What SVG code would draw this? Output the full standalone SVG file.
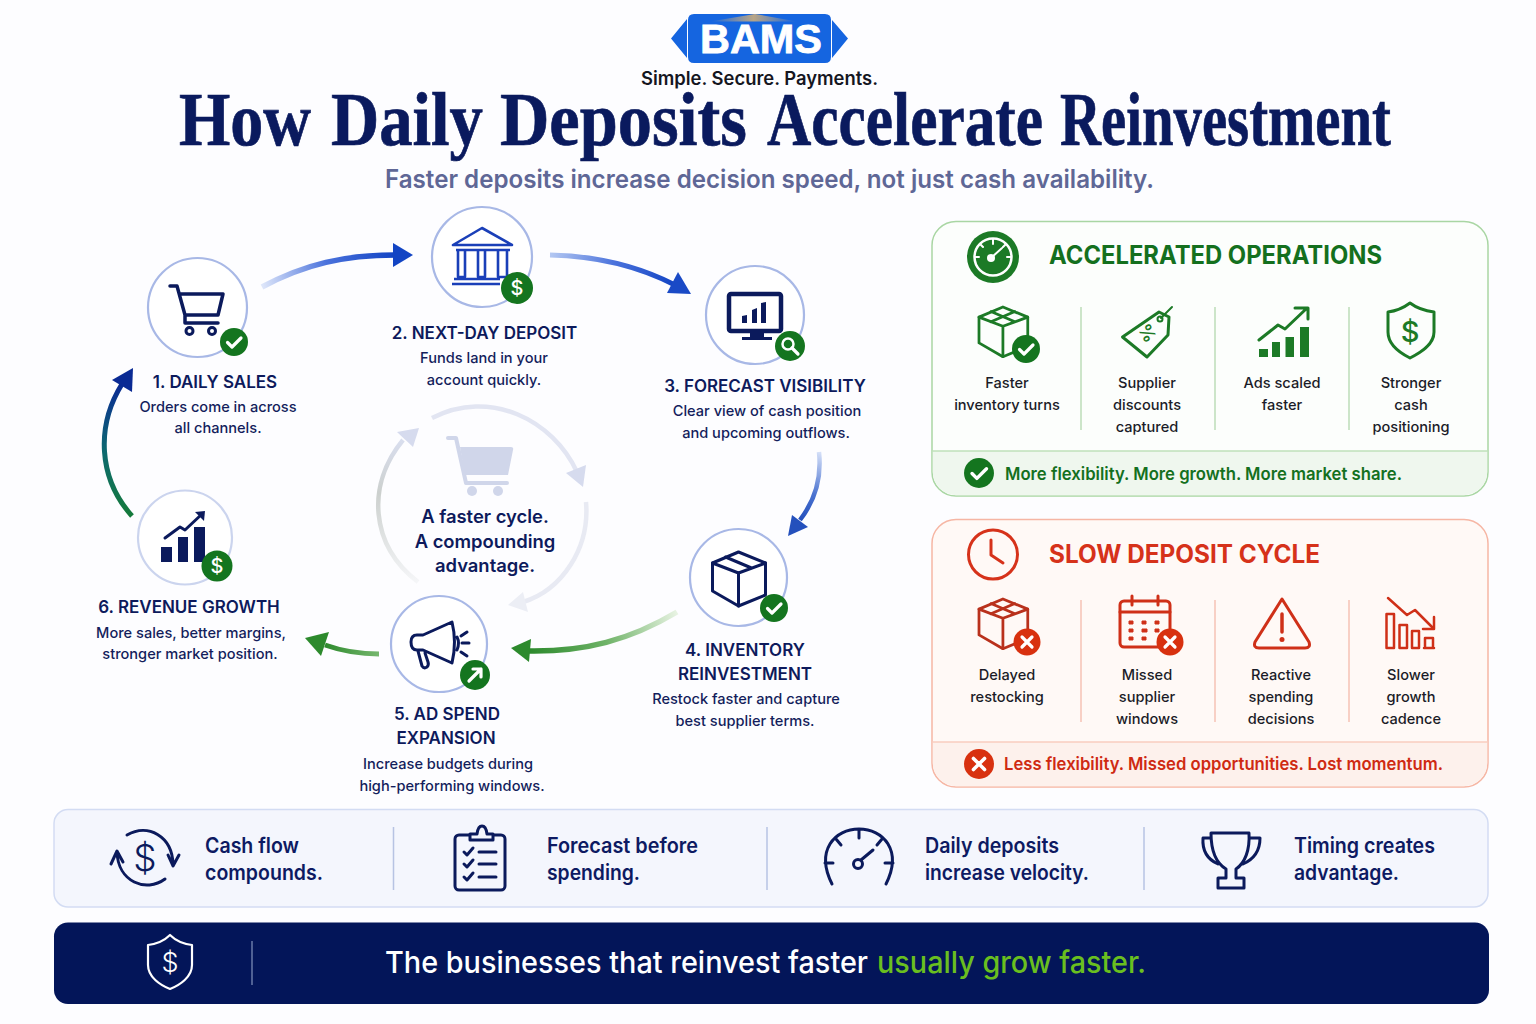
<svg xmlns="http://www.w3.org/2000/svg" width="1536" height="1024" viewBox="0 0 1536 1024">
<style>
text{font-family:Inter,"Noto Sans","Liberation Sans",sans-serif}
.ttl{font-size:17px;font-weight:600;fill:#0d1a5c;text-anchor:middle}
.dsc{font-size:14.600px;font-weight:500;fill:#141e5c;text-anchor:middle}
.ctr{font-size:18.400px;font-weight:600;fill:#0d1a5c;text-anchor:middle}
.lbl{font-size:14.600px;font-weight:500;fill:#1b1c28;text-anchor:middle}
.str{font-size:21px;font-weight:600;fill:#0d1a62}
.ring{fill:#fff;stroke:#a8b8e6;stroke-width:2.2}
.ic{fill:none;stroke:#0b1a5c;stroke-width:3.5;stroke-linecap:round;stroke-linejoin:round}
.fnav{fill:#0b1a5c}
.gi{fill:none;stroke:#1c7a26;stroke-width:3;stroke-linecap:round;stroke-linejoin:round}
.ri{fill:none;stroke:#cf3018;stroke-width:3;stroke-linecap:round;stroke-linejoin:round}
.gd{stroke:#bcdcb8;stroke-width:1.5}
.rd{stroke:#f6c2b4;stroke-width:1.5}
.sd{stroke:#b7c3e3;stroke-width:1.5}
.bd{fill:#14751f}
.wl{fill:none;stroke:#fff;stroke-width:3.2;stroke-linecap:round;stroke-linejoin:round}
.dol{font-weight:500;text-anchor:middle}
.con{fill:none;stroke-linecap:butt}
</style>
<defs>
<linearGradient id="g1" gradientUnits="userSpaceOnUse" x1="262" y1="287" x2="395" y2="255"><stop offset="0" stop-color="#dfe7fa"/><stop offset=".5" stop-color="#4a72dc"/><stop offset="1" stop-color="#1244c4"/></linearGradient>
<linearGradient id="g2" gradientUnits="userSpaceOnUse" x1="550" y1="255" x2="675" y2="285"><stop offset="0" stop-color="#b4c8f2"/><stop offset=".5" stop-color="#4a72dc"/><stop offset="1" stop-color="#1244c4"/></linearGradient>
<linearGradient id="g3" gradientUnits="userSpaceOnUse" x1="819" y1="452" x2="800" y2="520"><stop offset="0" stop-color="#d5e0f8"/><stop offset=".6" stop-color="#4a72d0"/><stop offset="1" stop-color="#2450bc"/></linearGradient>
<linearGradient id="g4" gradientUnits="userSpaceOnUse" x1="677" y1="612" x2="530" y2="651"><stop offset="0" stop-color="#e8f3e3"/><stop offset=".5" stop-color="#6fb368"/><stop offset="1" stop-color="#2d8a2d"/></linearGradient>
<linearGradient id="g5" gradientUnits="userSpaceOnUse" x1="379" y1="654" x2="325" y2="645"><stop offset="0" stop-color="#76b76e"/><stop offset="1" stop-color="#2d8a2d"/></linearGradient>
<linearGradient id="g6" gradientUnits="userSpaceOnUse" x1="132" y1="516" x2="122" y2="384"><stop offset="0" stop-color="#157a3a"/><stop offset=".5" stop-color="#0d6a70"/><stop offset="1" stop-color="#0a2a94"/></linearGradient>
<linearGradient id="g7" gradientUnits="userSpaceOnUse" x1="418" y1="582" x2="403" y2="440"><stop offset="0" stop-color="#f5f6f8"/><stop offset=".65" stop-color="#ccd0ce"/><stop offset="1" stop-color="#d9deee"/></linearGradient>
<linearGradient id="gold" x1="0" y1="0" x2="1" y2="0"><stop offset="0" stop-color="#1565e0"/><stop offset=".5" stop-color="#b9a586"/><stop offset="1" stop-color="#1565e0"/></linearGradient>
<g id="box" fill="none" stroke="currentColor" stroke-linejoin="round" stroke-linecap="round">
<path d="M26 0L53 11V43L26 54L0 39V11Z"/><path d="M0 11L26 21L53 11M26 21V54M13 5L39 16"/>
</g>
<g id="boxX" fill="none" stroke="currentColor" stroke-linejoin="round" stroke-linecap="round">
<use href="#box"/><path d="M39 5L13 16"/>
</g>
<g id="cOk"><circle r="14" class="bd"/><path d="M-6.500 0.500L-2 5L7-4" class="wl"/></g>
<g id="cX"><circle r="13.500" fill="#d8310f"/><path d="M-5-5L5 5M5-5L-5 5" class="wl"/></g>
</defs>
<rect width="1536" height="1024" fill="#fdfdff"/>

<g id="logo">
<path d="M694 14H825Q831 14 831 20V57Q831 63 825 63H694Q688 63 688 57V20Q688 14 694 14Z" fill="#1565e0"/>
<path d="M687 19V58L671 38.500Z M832 20V58L848 38.500Z" fill="#1565e0"/>
<path d="M710 21.500L755 14L797 21.500Z" fill="url(#gold)"/>
<text x="700" y="53" textLength="122" lengthAdjust="spacingAndGlyphs" style="font-family:'Liberation Sans',sans-serif;font-size:40px;font-weight:700;fill:#fff;stroke:#fff;stroke-width:.8">BAMS</text>
<text x="641" y="85" textLength="237" lengthAdjust="spacingAndGlyphs" style="font-size:18.500px;font-weight:600;fill:#15161f">Simple. Secure. Payments.</text>
</g>
<g id="header">
<text transform="translate(179 145) scale(.85 1)" style="font-family:'Liberation Serif',serif;font-size:76px;font-weight:700;fill:#0a1a5e;stroke:#0a1a5e;stroke-width:.7"><tspan x="0" textLength="155.300" lengthAdjust="spacingAndGlyphs">How</tspan> <tspan x="178.800" textLength="178.800" lengthAdjust="spacingAndGlyphs">Daily</tspan> <tspan x="377.600" textLength="290.600" lengthAdjust="spacingAndGlyphs">Deposits</tspan> <tspan x="691.800" textLength="324.700" lengthAdjust="spacingAndGlyphs">Accelerate</tspan> <tspan x="1036.500" textLength="389.400" lengthAdjust="spacingAndGlyphs">Reinvestment</tspan></text>
<text x="385" y="188" textLength="769" lengthAdjust="spacingAndGlyphs" style="font-size:25px;font-weight:600;fill:#5f6796">Faster deposits increase decision speed, not just cash availability.</text>
</g>

<g id="connectors">
<path class="con" d="M262 287C305 264 345 255 395 255" stroke="url(#g1)" stroke-width="5.500"/>
<polygon points="413,255 393,243 393,267" fill="#1244c4"/>
<path class="con" d="M550 255C596 256 638 266 675 285" stroke="url(#g2)" stroke-width="5"/>
<polygon points="691,294 667,293 678,272" fill="#1a4ac6"/>
<path class="con" d="M819 452C822 480 813 503 800 520" stroke="url(#g3)" stroke-width="4.500"/>
<polygon points="788,536 792,515 808,527" fill="#2450bc"/>
<path class="con" d="M677 612C630 640 585 652 528 651" stroke="url(#g4)" stroke-width="5.500"/>
<polygon points="511,648 531,639 529,662" fill="#2d8a2d"/>
<path class="con" d="M379 654C358 654 342 651 325 645" stroke="url(#g5)" stroke-width="5"/>
<polygon points="305,638 329,632 321,656" fill="#2d8a2d"/>
<path class="con" d="M132 516C98 478 96 426 122 384" stroke="url(#g6)" stroke-width="5"/>
<polygon points="133,368 112,380 132,392" fill="#0a2a94"/>
<g id="inner-cycle">
<path class="con" d="M432 418C490 388 553 420 577 472" stroke="#e2e5f2" stroke-width="4.500"/>
<polygon points="583,487 566,473 586,465" fill="#d6dbee"/>
<path class="con" d="M586 502C590 548 562 590 523 602" stroke="#e8eaf3" stroke-width="4.500"/>
<polygon points="508,605 523,592 528,612" fill="#eceef5"/>
<path class="con" d="M418 582C370 545 366 485 403 440" stroke="url(#g7)" stroke-width="4.500"/>
<polygon points="419,428 397,432 413,447" fill="#d6dbee"/>
</g>
</g>

<g id="center">
<path d="M448 438H456L466 483H507" fill="none" stroke="#d0d6ea" stroke-width="4" stroke-linecap="round" stroke-linejoin="round"/>
<path d="M460 447H511Q514 447 513 450L508 475H465Z" fill="#d0d6ea"/>
<circle cx="472" cy="491" r="5" fill="#d0d6ea"/><circle cx="498" cy="491" r="5" fill="#d0d6ea"/>
<text class="ctr" x="485" y="522.500">A faster cycle.</text>
<text class="ctr" x="485" y="547.500">A compounding</text>
<text class="ctr" x="485" y="571.500">advantage.</text>
</g>

<g id="node1">
<circle class="ring" cx="197.500" cy="307.500" r="49.500"/>
<path class="ic" d="M170 286H177L185 315H218L223 294H180M185 315V323H218"/>
<circle class="ic" cx="189.500" cy="331" r="3.500" style="stroke-width:3"/><circle class="ic" cx="212" cy="331" r="3.500" style="stroke-width:3"/>
<use href="#cOk" x="234" y="342"/>
<text class="ttl" x="215" y="388">1. DAILY SALES</text>
<text class="dsc" x="218" y="412">Orders come in across</text>
<text class="dsc" x="218" y="433">all channels.</text>
</g>

<g id="node2">
<circle class="ring" cx="482" cy="257" r="50"/>
<g fill="none" stroke="#1a3fb8" stroke-width="2.600" stroke-linejoin="round">
<path d="M482 228L453 245H512Z"/>
<path d="M458 250V277H465V250M478 250V277H485V250M498 250V277H507V250M456 250H510"/>
<path d="M454 279H500M452 284H500"/>
</g>
<circle cx="517" cy="288" r="16" class="bd"/>
<text class="dol" x="517" y="295" style="font-size:20px;fill:#fff">$</text>
<text class="ttl" x="484.500" y="338.500">2. NEXT-DAY DEPOSIT</text>
<text class="dsc" x="484" y="363">Funds land in your</text>
<text class="dsc" x="484" y="385">account quickly.</text>
</g>

<g id="node3">
<circle class="ring" cx="755" cy="315" r="49"/>
<rect x="729" y="294" width="52" height="37" rx="2" class="ic" style="stroke-width:4.500"/>
<path class="fnav" d="M742 316l5-1V323H742ZM752 310l5-2V323H752ZM761 303l5-1V323H761ZM750 332H764V337H772V340H742V337H750Z"/>
<circle cx="790" cy="346" r="15" class="bd"/>
<circle cx="788" cy="344" r="5.500" fill="none" stroke="#fff" stroke-width="2.500"/>
<path d="M792 348L798 354" class="wl"/>
<text class="ttl" x="765" y="392">3. FORECAST VISIBILITY</text>
<text class="dsc" x="767" y="416">Clear view of cash position</text>
<text class="dsc" x="766" y="438">and upcoming outflows.</text>
</g>

<g id="node4">
<circle class="ring" cx="738.500" cy="577.500" r="48.500"/>
<use href="#box" x="712.500" y="552" style="color:#0b1a5c" stroke-width="3"/>
<use href="#cOk" x="774" y="608"/>
<text class="ttl" x="745" y="655.500">4. INVENTORY</text>
<text class="ttl" x="745" y="680">REINVESTMENT</text>
<text class="dsc" x="746" y="704">Restock faster and capture</text>
<text class="dsc" x="745" y="726">best supplier terms.</text>
</g>

<g id="node5">
<circle class="ring" cx="439" cy="644" r="48"/>
<path class="ic" d="M423 635L452 622Q457 642 452 663L423 650H417Q411 650 411 642Q411 635 417 635ZM418 651L422 666Q424 669 427 667Q429 665 428 662L425 653M457 637Q460 643 457 650M461 636L467 632M462 643H469M461 652L467 656" style="stroke-width:3"/>
<circle cx="475" cy="675" r="15" class="bd"/>
<path d="M469 681L481 669M473 669H481V677" class="wl"/>
<text class="ttl" x="447" y="720">5. AD SPEND</text>
<text class="ttl" x="446" y="744">EXPANSION</text>
<text class="dsc" x="448" y="769">Increase budgets during</text>
<text class="dsc" x="452" y="791">high-performing windows.</text>
</g>

<g id="node6">
<circle class="ring" cx="185" cy="537.500" r="47" style="stroke:#cbd4ee"/>
<rect class="fnav" x="161" y="547" width="11" height="15"/>
<rect class="fnav" x="178" y="537" width="10" height="25"/>
<rect class="fnav" x="194" y="527" width="11" height="35"/>
<path class="ic" d="M165 538L180 527L185 530L202 514" style="stroke-width:3"/>
<polygon class="fnav" points="195,512 205,511 204,521"/>
<circle cx="217" cy="566" r="15.500" class="bd"/>
<text class="dol" x="217" y="573" style="font-size:20px;fill:#fff">$</text>
<text class="ttl" x="189" y="613">6. REVENUE GROWTH</text>
<text class="dsc" x="191" y="638">More sales, better margins,</text>
<text class="dsc" x="190" y="659">stronger market position.</text>
</g>

<g id="accelerated-operations">
<rect x="932" y="221.500" width="556" height="274.500" rx="24" fill="#fcfefc" stroke="#a9d6a3" stroke-width="1.500"/>
<path d="M932.800 451H1487.200V472A23.500 23.500 0 0 1 1464 495.200H956A23.500 23.500 0 0 1 932.800 472Z" fill="#eff7ee"/>
<path d="M932 451H1488" stroke="#bfe0ba" stroke-width="1.500"/>
<circle cx="993" cy="257" r="26" fill="#1c7a26"/>
<circle cx="993" cy="257" r="18.500" fill="none" stroke="#fff" stroke-width="2.500"/>
<path d="M993 239V244M975 257H979M1011 257H1007M980 244L983 247M1006 244L1003 247M991 258L1002 248" stroke="#fff" stroke-width="2" stroke-linecap="round"/>
<circle cx="991" cy="258" r="4" fill="#fff"/>
<text x="1049" y="264" textLength="333" lengthAdjust="spacingAndGlyphs" style="font-size:25px;font-weight:700;fill:#14701e">ACCELERATED OPERATIONS</text>
<line class="gd" x1="1081" y1="307" x2="1081" y2="430"/><line class="gd" x1="1215" y1="307" x2="1215" y2="430"/><line class="gd" x1="1349" y1="307" x2="1349" y2="430"/>
<use href="#boxX" transform="translate(979 307) scale(.92)" style="color:#1c7a26" stroke-width="3"/>
<use href="#cOk" x="1026" y="349"/>
<g id="tag"><path class="gi" d="M1122.500 337L1159 312L1169 317L1168 335L1147 357Z"/><circle class="gi" cx="1160" cy="319" r="2.500" style="stroke-width:2"/><path class="gi" d="M1161 318L1172 307" style="stroke-width:2"/>
<text x="1146" y="334" transform="rotate(60 1146 334)" text-anchor="middle" dominant-baseline="middle" style="font-size:18px;font-weight:600;fill:#1c7a26">%</text></g>
<g id="chart"><path d="M1259 349h9v8h-9ZM1272 342h8v15h-8ZM1285.500 337h8.500v20h-8.500ZM1300 327h9v30h-9Z" fill="#1c7a26"/>
<path class="gi" d="M1259 340L1278 325L1285 329L1306 309M1295 308H1308V319"/></g>
<g id="shield"><path class="gi" d="M1410 303C1402 309 1396 311 1388 312V332C1388 345 1400 353 1410 358C1420 353 1434 345 1434 332V312C1426 311 1418 309 1410 303Z"/>
<text class="dol" x="1410" y="342" style="font-size:29px;fill:#1c7a26">$</text></g>
<text class="lbl" x="1007" y="388">Faster</text><text class="lbl" x="1007" y="410">inventory turns</text>
<text class="lbl" x="1147" y="388">Supplier</text><text class="lbl" x="1147" y="410">discounts</text><text class="lbl" x="1147" y="432">captured</text>
<text class="lbl" x="1282" y="388">Ads scaled</text><text class="lbl" x="1282" y="410">faster</text>
<text class="lbl" x="1411" y="388">Stronger</text><text class="lbl" x="1411" y="410">cash</text><text class="lbl" x="1411" y="432">positioning</text>
<use href="#cOk" transform="translate(979 473) scale(1.070)"/>
<text x="1005" y="480" textLength="397" lengthAdjust="spacingAndGlyphs" style="font-size:17.500px;font-weight:600;fill:#14701e">More flexibility. More growth. More market share.</text>
</g>

<g id="slow-deposit-cycle">
<rect x="932" y="519.500" width="556" height="267.500" rx="24" fill="#fff9f6" stroke="#f6b6a4" stroke-width="1.500"/>
<path d="M932.800 742H1487.200V763A23.500 23.500 0 0 1 1464 786.200H956A23.500 23.500 0 0 1 932.800 763Z" fill="#fdf1ec"/>
<path d="M932 742H1488" stroke="#f8ccbf" stroke-width="1.500"/>
<circle cx="993" cy="554.500" r="24.500" fill="none" stroke="#d6321a" stroke-width="3"/>
<path d="M991 540V555L1003 563" fill="none" stroke="#d6321a" stroke-width="3" stroke-linecap="round" stroke-linejoin="round"/>
<text x="1049" y="563" textLength="271" lengthAdjust="spacingAndGlyphs" style="font-size:25px;font-weight:700;fill:#d6321a">SLOW DEPOSIT CYCLE</text>
<line class="rd" x1="1081" y1="600" x2="1081" y2="722"/><line class="rd" x1="1215" y1="600" x2="1215" y2="722"/><line class="rd" x1="1349" y1="600" x2="1349" y2="722"/>
<use href="#boxX" transform="translate(979 599) scale(.92)" style="color:#b9311c" stroke-width="3"/>
<use href="#cX" x="1027" y="642"/>
<g id="calendar"><rect class="ri" x="1120" y="601" width="50" height="46" rx="4"/><path class="ri" d="M1120 612H1170M1132 596V605M1158 596V605"/>
<path d="M1129 621h4v3h-4ZM1142 621h4v3h-4ZM1155 621h4v3h-4ZM1129 629h4v3h-4ZM1142 629h5v3h-5ZM1155 629h4v3h-4ZM1129 637h4v3h-4ZM1142 637h4v3h-4Z" fill="#cf3018" stroke="#cf3018" stroke-width="1"/></g>
<use href="#cX" x="1170" y="642"/>
<g id="warning"><path class="ri" d="M1282 599L1309 642Q1311 648 1305 648H1259Q1253 648 1255 642Z"/><path class="ri" d="M1282 614V632" style="stroke-width:3.500"/><circle cx="1282" cy="639.500" r="2.500" fill="#cf3018"/></g>
<g id="down-chart"><path class="ri" d="M1386.500 614h7.500v34h-7.500ZM1399.500 625h7.500v23h-7.500ZM1412 631h7v17h-7ZM1425 638h8v10h-8ZM1424 648H1434M1388 598L1407 615L1415 610L1432 627" style="stroke-width:2.500"/><path class="ri" d="M1434 617V629H1423" style="stroke-width:2.500"/></g>
<text class="lbl" x="1007" y="680">Delayed</text><text class="lbl" x="1007" y="702">restocking</text>
<text class="lbl" x="1147" y="680">Missed</text><text class="lbl" x="1147" y="702">supplier</text><text class="lbl" x="1147" y="724">windows</text>
<text class="lbl" x="1281" y="680">Reactive</text><text class="lbl" x="1281" y="702">spending</text><text class="lbl" x="1281" y="724">decisions</text>
<text class="lbl" x="1411" y="680">Slower</text><text class="lbl" x="1411" y="702">growth</text><text class="lbl" x="1411" y="724">cadence</text>
<use href="#cX" transform="translate(979 764) scale(1.110)"/>
<text x="1004" y="770" textLength="439" lengthAdjust="spacingAndGlyphs" style="font-size:17.500px;font-weight:600;fill:#cf2a12">Less flexibility. Missed opportunities. Lost momentum.</text>
</g>

<g id="strip">
<rect x="54" y="809.500" width="1434" height="97.500" rx="14" fill="#f4f6fd" stroke="#d3dcf3" stroke-width="1.500"/>
<line class="sd" x1="393.500" y1="827" x2="393.500" y2="890"/><line class="sd" x1="767" y1="827" x2="767" y2="890"/><line class="sd" x1="1144" y1="827" x2="1144" y2="890"/>
<g id="cash-icon"><path class="ic" d="M127 835C148 823 172 836 173 864M168 855L173 866L179 855M165 879C146 893 118 882 117 852M111 864L117 851L123 862" style="stroke-width:3"/>
<text class="dol" x="145" y="871" style="font-size:37px;font-weight:300;fill:#0b1a5c">$</text></g>
<text class="str" x="205" y="853" textLength="94" lengthAdjust="spacingAndGlyphs">Cash flow</text><text class="str" x="205" y="880" textLength="118" lengthAdjust="spacingAndGlyphs">compounds.</text>
<g id="clipboard"><rect class="ic" x="455" y="835" width="50" height="55" rx="4" style="stroke-width:3"/><path class="ic" d="M470 840V834H477Q478 826 482 826Q486 826 487 834H493V840H470Z" style="stroke-width:3;fill:#f4f6fd"/>
<path class="ic" d="M464 852L467 855L473 848M464 864L467 867L473 860M464 877L467 880L473 873M479 852H496M479 864H496M479 877H496" style="stroke-width:3"/></g>
<text class="str" x="547" y="853" textLength="151" lengthAdjust="spacingAndGlyphs">Forecast before</text><text class="str" x="547" y="880" textLength="93" lengthAdjust="spacingAndGlyphs">spending.</text>
<g id="gauge-icon"><path class="ic" d="M832 884C815 850 835 829 859 829C883 829 903 850 886 884M859 829V838M836 839L841 845M882 839L877 845M825 863H833M893 863H885" style="stroke-width:3"/>
<circle class="ic" cx="858" cy="864" r="4.500" style="stroke-width:3"/><path class="ic" d="M861 860L873 850" style="stroke-width:3"/></g>
<text class="str" x="925" y="853" textLength="134" lengthAdjust="spacingAndGlyphs">Daily deposits</text><text class="str" x="925" y="880" textLength="164" lengthAdjust="spacingAndGlyphs">increase velocity.</text>
<g id="trophy"><path class="ic" d="M1211 833H1249C1250 850 1245 863 1236 869V878H1244V888H1218V878H1226V869C1216 863 1211 850 1211 833ZM1211 838H1203C1202 852 1209 860 1218 864M1249 838H1260C1260 852 1252 860 1243 864" style="stroke-width:3"/></g>
<text class="str" x="1294" y="853" textLength="141" lengthAdjust="spacingAndGlyphs">Timing creates</text><text class="str" x="1294" y="880" textLength="105" lengthAdjust="spacingAndGlyphs">advantage.</text>
</g>

<g id="banner">
<rect x="54" y="922.500" width="1435" height="81.500" rx="14" fill="#031559"/>
<path d="M170 935C163 942 156 944 148 945V965C148 977 160 985 170 989C180 985 192 977 192 965V945C184 944 177 942 170 935Z" fill="none" stroke="#fff" stroke-width="2.200" stroke-linejoin="round"/>
<text class="dol" x="170" y="972" style="font-size:27px;font-weight:300;fill:#fff">$</text>
<line x1="252" y1="941" x2="252" y2="985" stroke="#6a7aa8" stroke-width="1.500"/>
<text x="385" y="973" textLength="483" lengthAdjust="spacingAndGlyphs" style="font-size:30px;font-weight:500;fill:#fff">The businesses that reinvest faster</text>
<text x="877" y="973" textLength="269" lengthAdjust="spacingAndGlyphs" style="font-size:30px;font-weight:500;fill:#6abf1f">usually grow faster.</text>
</g>
</svg>
